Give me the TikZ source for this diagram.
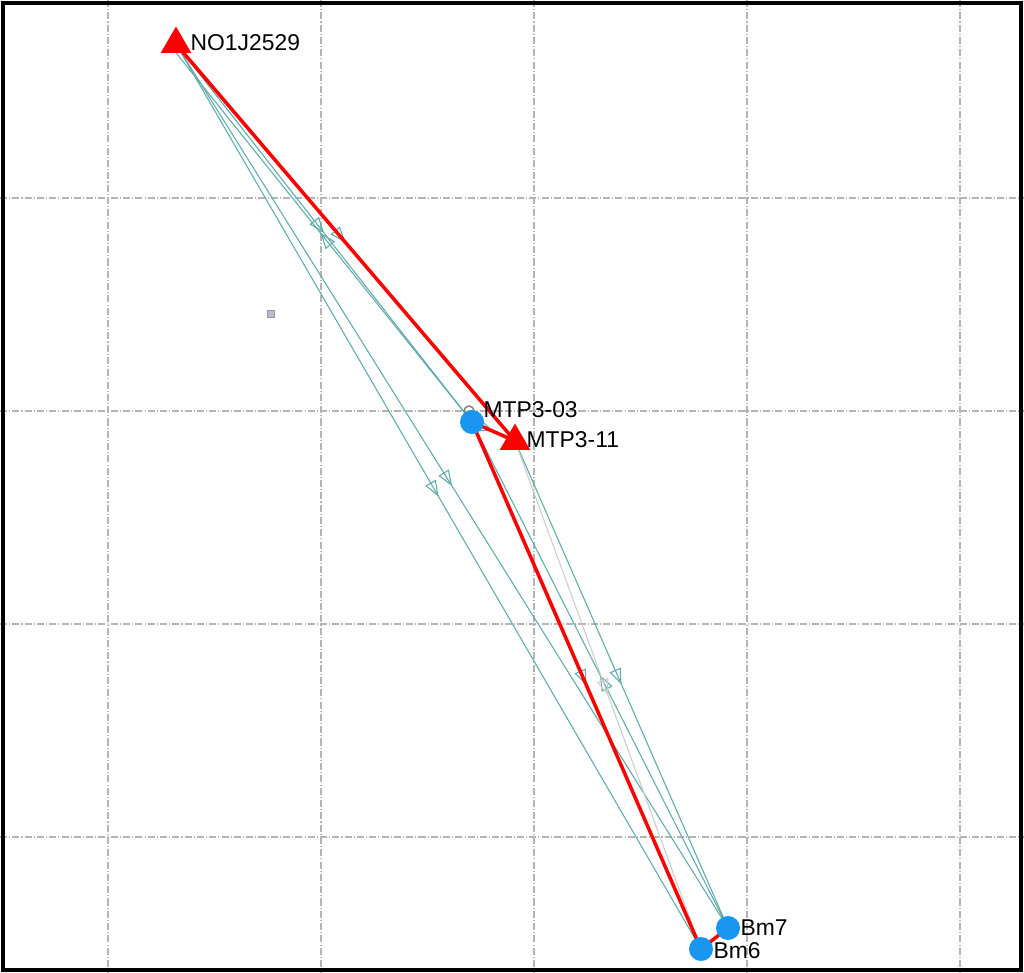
\documentclass[tikz,border=0pt]{standalone}
\usepackage{fontspec}
\setmainfont{Liberation Sans}
\usetikzlibrary{arrows.meta, decorations.markings, shapes.geometric}

\definecolor{linkteal}{RGB}{95,170,170}
\definecolor{stnblue}{RGB}{25,150,240}
\definecolor{gridgray}{RGB}{180,180,180}
\definecolor{pinlav}{RGB}{185,185,212}

\tikzset{
  midarrow/.style={postaction={decorate}, decoration={markings,
      mark=at position 0.5 with {\arrow{Triangle[open, length=4.5pt, width=3.4pt]}}}},
  link/.style={linkteal, line width=0.3pt, midarrow},
  ghostlink/.style={black!20, line width=0.3pt, midarrow},
  route/.style={red, line width=1pt},
  basestn/.style={regular polygon, regular polygon sides=3, fill=red, inner sep=0pt, minimum size=0.35cm},
  rover/.style={circle, fill=stnblue, inner sep=0pt, minimum size=0.24cm},
  stnlabel/.style={anchor=west, inner sep=0pt, font=\fontsize{6.5pt}{7pt}\selectfont},
  gridline/.style={gridgray, line width=0.3pt, dash pattern=on 2pt off 0.6pt on 0.3pt off 0.6pt}
}

\begin{document}
\begin{tikzpicture}[x=0.01cm, y=-0.01cm]
    % ================= Canvas =================
    \def\W{1024}
    \def\H{973}
    \path[use as bounding box] (0,0) rectangle (\W,\H);
    \fill[white] (0,0) rectangle (\W,\H);

    % ================= Grid =================
    \foreach \gx in {108, 321, 534, 747, 960}
        \draw[gridline] (\gx,0) -- (\gx,\H);
    \foreach \gy in {198, 411, 624, 837}
        \draw[gridline] (0,\gy) -- (\W,\gy);

    % ================= Stations =================
    \coordinate (NO) at (176,44);
    \coordinate (M3) at (472,422);
    \coordinate (M11) at (515,441);
    \coordinate (B7) at (728,928);
    \coordinate (B6) at (701,949);

    % ================= Baselines =================
    \draw[link] (NO) -- (M3);
    \draw[link] (M3) -- ([xshift=-2]NO);
    \draw[link] (NO) -- (M11);
    \draw[link] (NO) -- (B6);
    \draw[link] (NO) -- (B7);
    \draw[link] (M3) -- (B6);
    \draw[link] (B7) -- (M3);
    \draw[link] (M11) -- (B7);
    \draw[ghostlink] (M11) -- (B6);
    \draw[link] (M3) -- (M11);

    % ================= Route =================
    \draw[route] (NO) -- (M11) -- (M3) -- (B6) -- (B7);

    % ================= Markers =================
    \node[circle, draw=gray, inner sep=0pt, minimum size=0.1cm] (m3pin) at (469,411) {};
    \node[draw=gray!80, fill=pinlav, line width=0.3pt, inner sep=0pt, minimum size=0.07cm] (pin) at (271,314) {};

    \node[basestn] (no1) at (NO) {};
    \node[basestn] (mtp11) at (M11) {};
    \node[rover] (mtp03) at (M3) {};
    \node[rover] (bm7) at (B7) {};
    \node[rover] (bm6) at (B6) {};

    % ================= Labels =================
    \node[stnlabel] (no1lbl) at (190,43) {NO1J2529};
    \node[stnlabel] (mtp03lbl) at (483,410) {MTP3-03};
    \node[stnlabel] (mtp11lbl) at (526,440) {MTP3-11};
    \node[stnlabel] (bm7lbl) at (740,928) {Bm7};
    \node[stnlabel] (bm6lbl) at (713,951) {Bm6};

    % ================= Frame =================
    \draw[line width=1.1pt] (3,3) rectangle (1021,970);
\end{tikzpicture}
\end{document}
